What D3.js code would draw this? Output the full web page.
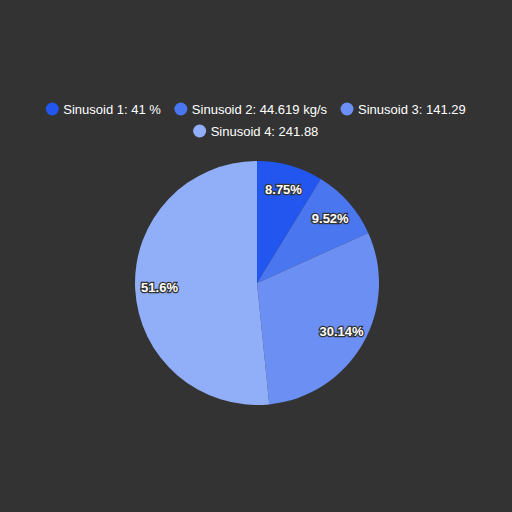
<!DOCTYPE html>
<html><head><meta charset="utf-8">
<script src="https://cdn.jsdelivr.net/npm/d3@7"></script>
<style>body{margin:0;background:#333333;}</style>
</head><body>
<svg id="chart" width="512" height="512"></svg>
<script>
var names = ["Sinusoid 1", "Sinusoid 2", "Sinusoid 3", "Sinusoid 4"];
var values = [41, 44.619, 141.29, 241.88];
var legendText = ["Sinusoid 1: 41 %", "Sinusoid 2: 44.619 kg/s", "Sinusoid 3: 141.29", "Sinusoid 4: 241.88"];
var colors = ["#2356ee", "#4a76f0", "#6b8ff3", "#91aef9"];

var svg = d3.select("#chart");
svg.append("rect").attr("width", 512).attr("height", 512).attr("fill", "#333333");

var cx = 257, cy = 283, r = 122;
var total = d3.sum(values);
var pie = d3.pie().sort(null).value(function(d){ return d; });
var arc = d3.arc().innerRadius(0).outerRadius(r);
var labelArc = d3.arc().innerRadius(r * 0.8).outerRadius(r * 0.8);

var g = svg.append("g").attr("transform", "translate(" + cx + "," + cy + ")");
var arcs = pie(values);
g.selectAll("path").data(arcs).enter().append("path")
  .attr("d", arc)
  .attr("fill", function(d,i){ return colors[i]; });

g.selectAll("text").data(arcs).enter().append("text")
  .attr("transform", function(d){ return "translate(" + labelArc.centroid(d) + ")"; })
  .attr("text-anchor", "middle").attr("dy", "0.35em")
  .attr("font-family", "Arial, Liberation Sans, sans-serif")
  .attr("font-size", 13).attr("font-weight", "bold")
  .attr("fill", "#ffffff")
  .attr("stroke", "#333333").attr("stroke-width", 2.5).attr("paint-order", "stroke")
  .text(function(d){ return (Math.round(d.data / total * 10000) / 100) + "%"; });

// legend: row 1 with three items, row 2 with one
var rows = [[0,1,2],[3]];
var rowY = [109, 131];
rows.forEach(function(row, ri){
  var lg = svg.append("g");
  var x = 0;
  row.forEach(function(i){
    var item = lg.append("g").attr("transform", "translate(" + x + ",0)");
    item.append("circle").attr("cx", 6).attr("cy", 0).attr("r", 6.5).attr("fill", colors[i]);
    var t = item.append("text").attr("x", 17).attr("dy", "0.35em")
      .attr("font-family", "Arial, Liberation Sans, sans-serif")
      .attr("font-size", 13).attr("fill", "#ffffff").text(legendText[i]);
    x += 17 + t.node().getComputedTextLength() + 14;
  });
  x -= 14;
  lg.attr("transform", "translate(" + (256 - x/2) + "," + rowY[ri] + ")");
});
</script>
</body></html>
